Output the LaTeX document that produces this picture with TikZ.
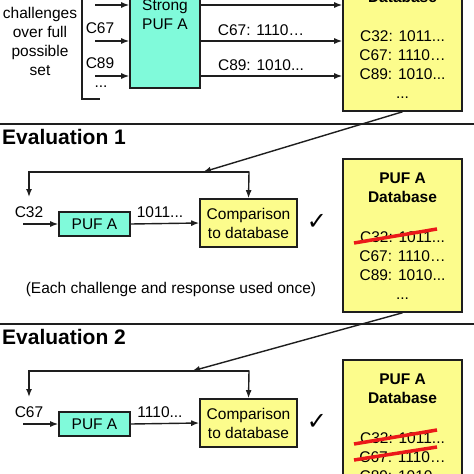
\documentclass[tikz,border=0pt]{standalone}
\usepackage{fontspec}
\setmainfont{Liberation Sans}
\newfontfamily\dejavu{DejaVu Sans}
\usetikzlibrary{arrows.meta}
\definecolor{pufcyan}{RGB}{128,250,218}
\definecolor{dbyellow}{RGB}{252,252,140}
\definecolor{edge}{RGB}{30,30,30}
\definecolor{strikered}{RGB}{235,25,25}
\tikzset{
  txt/.style={inner sep=0pt, align=center, font=\fontsize{15.5}{19}\selectfont},
  boldtxt/.style={txt, font=\fontsize{15.5}{19}\selectfont\bfseries},
  title/.style={inner sep=0pt, anchor=west, font=\fontsize{21}{25}\selectfont\bfseries},
  cbox/.style={draw=edge, line width=1.6pt, fill=pufcyan, inner sep=0pt, align=center, font=\fontsize{15.5}{19}\selectfont},
  ybox/.style={draw=edge, line width=1.6pt, fill=dbyellow, inner sep=0pt, align=center, font=\fontsize{15.5}{19}\selectfont},
  arr/.style={draw=edge, line width=1.4pt, -{Latex[length=8pt,width=6pt]}},
  plain/.style={draw=edge, line width=1.4pt},
  sep/.style={draw=edge, line width=1.4pt},
  strike/.style={draw=strikered, line width=3.5pt},
  chk/.style={inner sep=0pt, font=\dejavu\bfseries\fontsize{24}{24}\selectfont}
}
\begin{document}
\begin{tikzpicture}[x=1pt,y=-1pt]
\useasboundingbox (0,0) rectangle (474,474);
\fill[white] (0,0) rectangle (474,474);
\clip (0,0) rectangle (474,474);

% ---------- enrollment (top, partly cut) ----------
\node[txt] (chal) at (40,41) {challenges\\over full\\possible\\set};
\coordinate (brtop) at (82,-20);
\coordinate (brbot) at (82,99);
\coordinate (brend) at (100,99);
\draw[plain] (brtop) -- (brbot) -- (brend);

\node[cbox, minimum width=70pt, minimum height=130pt] (spuf) at (165,23) {};
\node[txt] (spuft) at (165,15) {Strong\\PUF A};

\node[ybox, minimum width=119pt, minimum height=160pt] (db0) at (402.5,31) {};
\node[boldtxt] (db0h) at (402.5,-12) {PUF A\\Database};
\node[txt] (db0t) at (402.5,65) {C32: 1011...\\C67: 1110…\\C89: 1010...\\...};

\coordinate (i1) at (95,5);
\coordinate (i2) at (95,41);
\coordinate (i3) at (95,76);
\draw[arr] (i1) -- (i1 -| spuf.west);
\draw[arr] (i2) -- (i2 -| spuf.west);
\draw[arr] (i3) -- (i3 -| spuf.west);
\node[txt] (l2) at (100,28) {C67};
\node[txt] (l3) at (100,63) {C89};
\node[txt] (l4) at (101,87) {...};

\coordinate (o1) at (200,5);
\coordinate (o2) at (200,41);
\coordinate (o3) at (200,76);
\draw[arr] (o1) -- (o1 -| db0.west);
\draw[arr] (o2) -- (o2 -| db0.west);
\draw[arr] (o3) -- (o3 -| db0.west);
\node[txt] (ol2) at (261,30) {C67: 1110…};
\node[txt] (ol3) at (261,65) {C89: 1010...};

% ---------- Evaluation 1 ----------
\coordinate (s1a) at (0,124);
\coordinate (s1b) at (474,124);
\draw[sep] (s1a) -- (s1b);
\node[title] (ev1) at (2,137) {Evaluation 1};

\node[cbox, minimum width=71pt, minimum height=24pt] (puf1) at (94.5,224) {PUF A};
\node[ybox, minimum width=97pt, minimum height=48pt] (cmp1) at (248.5,223) {Comparison\\to database};
\node[txt] (c32) at (29,212) {C32};
\node[txt] (r1) at (160,212) {1011...};
\coordinate (st1) at (23,224);
\draw[arr] (st1) -- (puf1.west);
\draw[arr] (puf1.east) -- (cmp1.west);
\node[chk] (chk1) at (317,222) {✓};

\node[ybox, minimum width=119pt, minimum height=153pt] (db1) at (402.5,235.5) {};
\node[boldtxt] (db1h) at (402.5,187.5) {PUF A\\Database};
\node[txt] (db1t) at (402.5,266) {C32: 1011...\\C67: 1110…\\C89: 1010...\\...};
\draw[strike] (354,243) -- (437,229);
\node[txt] (note) at (171,289) {(Each challenge and response used once)};

\coordinate (h1l) at (29,172);
\coordinate (h1r) at (249,172);
\coordinate (h1t) at (29,197);
\coordinate (a1) at (203,172);
\draw[arr] (h1r) -- (h1l) -- (h1t);
\draw[arr] (h1l) -- (h1r) -- (cmp1.north);
\draw[arr] (db0.south) -- (a1);

% ---------- Evaluation 2 ----------
\coordinate (s2a) at (0,324);
\coordinate (s2b) at (474,324);
\draw[sep] (s2a) -- (s2b);
\node[title] (ev2) at (2,337) {Evaluation 2};

\node[cbox, minimum width=71pt, minimum height=24pt] (puf2) at (94.5,424) {PUF A};
\node[ybox, minimum width=97pt, minimum height=48pt] (cmp2) at (248.5,423) {Comparison\\to database};
\node[txt] (c67) at (29,412) {C67};
\node[txt] (r2) at (160,412) {1110...};
\coordinate (st2) at (23,424);
\draw[arr] (st2) -- (puf2.west);
\draw[arr] (puf2.east) -- (cmp2.west);
\node[chk] (chk2) at (317,422) {✓};

\node[ybox, minimum width=119pt, minimum height=153pt] (db2) at (402.5,436.5) {};
\node[boldtxt] (db2h) at (402.5,388.5) {PUF A\\Database};
\node[txt] (db2t) at (402.5,467) {C32: 1011...\\C67: 1110…\\C89: 1010...\\...};
\draw[strike] (354,444) -- (437,430);
\draw[strike] (354,460) -- (437,447);

\coordinate (h2l) at (29,371);
\coordinate (h2r) at (249,371);
\coordinate (h2t) at (29,397);
\coordinate (a2) at (192,371);
\draw[arr] (h2r) -- (h2l) -- (h2t);
\draw[arr] (h2l) -- (h2r) -- (cmp2.north);
\draw[arr] (db1.south) -- (a2);
\end{tikzpicture}
\end{document}
